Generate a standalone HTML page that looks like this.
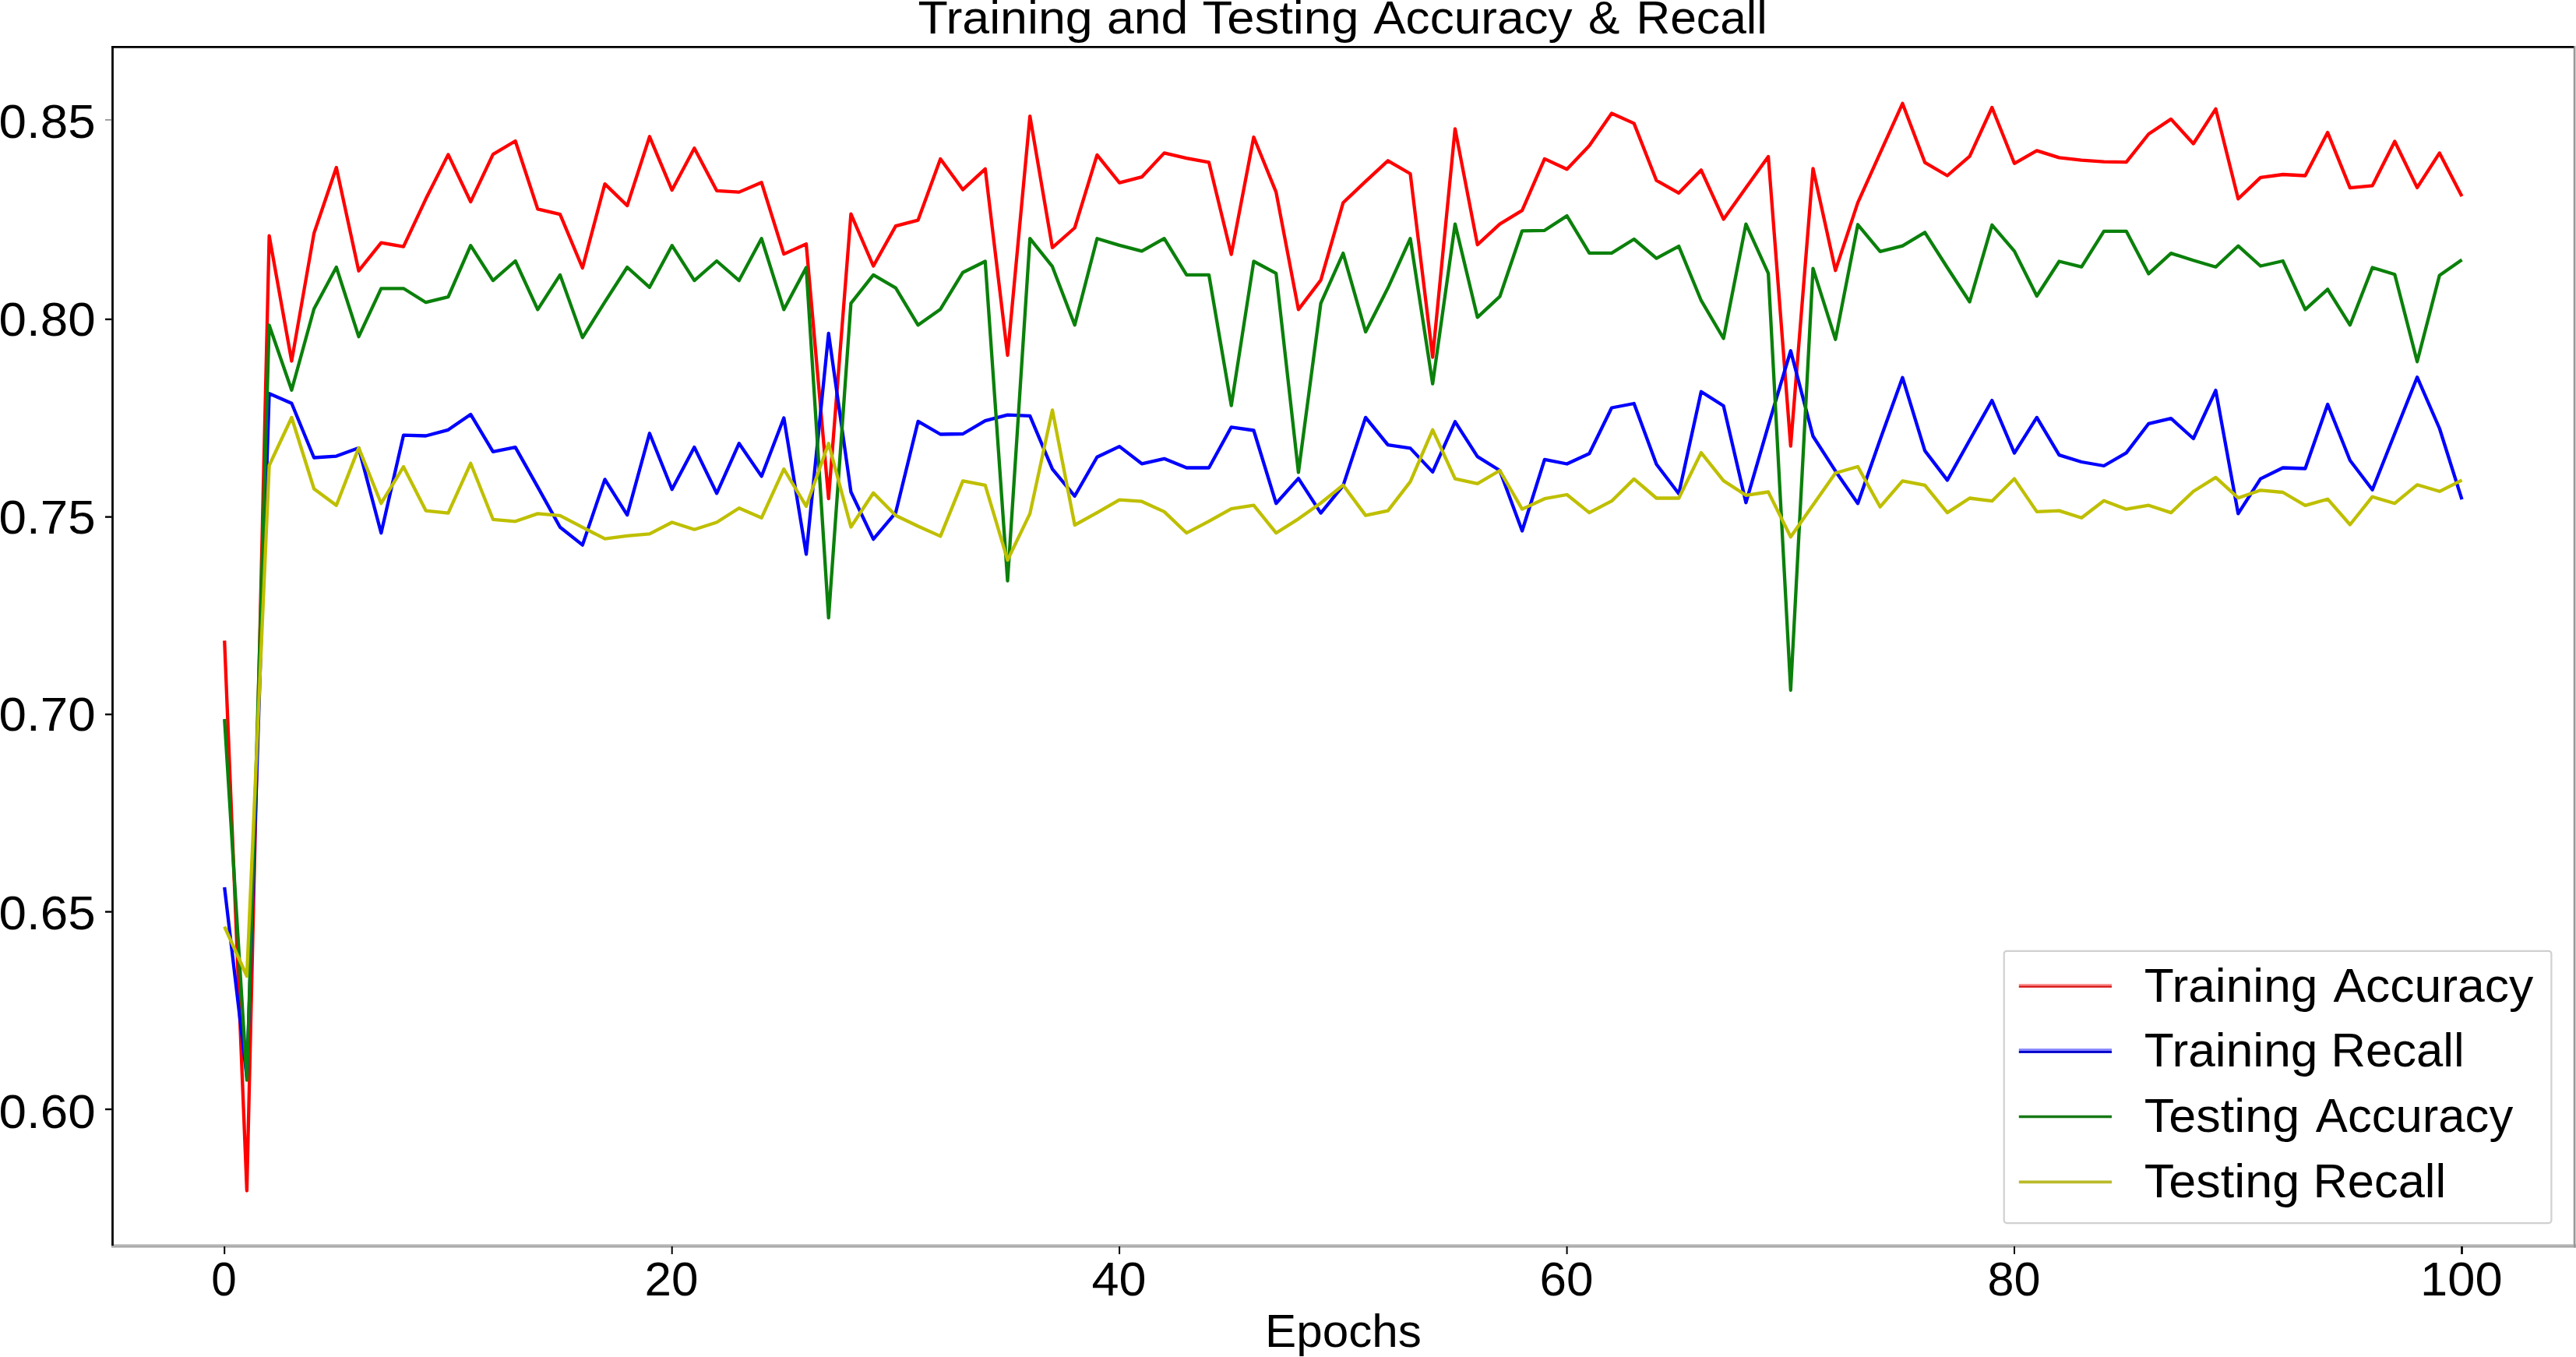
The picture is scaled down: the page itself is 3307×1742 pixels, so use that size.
<!DOCTYPE html>
<html><head><meta charset="utf-8"><title>Training and Testing Accuracy &amp; Recall</title>
<style>html,body{margin:0;padding:0;background:#fff;}body{width:3307px;height:1742px;overflow:hidden;}svg{display:block;}text{font-family:"Liberation Sans",sans-serif;fill:#000;}</style>
</head><body>
<svg width="3307" height="1742" viewBox="0 0 3307 1742">
<rect x="0" y="0" width="3307" height="1742" fill="#ffffff"/>
<polyline fill="none" stroke="#ff0000" stroke-width="4.3" stroke-linejoin="round" stroke-linecap="butt" points="288.2,822.4 316.9,1528.5 345.6,302.7 374.4,463.5 403.1,299.5 431.8,215.0 460.5,347.7 489.3,311.7 518.0,316.6 546.7,255.3 575.4,198.4 604.2,259.0 632.9,198.1 661.6,181.0 690.3,268.4 719.0,275.2 747.8,344.0 776.5,236.1 805.2,264.0 833.9,175.3 862.7,244.1 891.4,190.2 920.1,244.8 948.8,246.6 977.6,234.2 1006.3,326.1 1035.0,313.2 1063.7,640.0 1092.4,274.7 1121.2,341.5 1149.9,290.1 1178.6,282.6 1207.3,203.9 1236.1,243.4 1264.8,216.8 1293.5,456.1 1322.2,149.2 1351.0,317.9 1379.7,292.5 1408.4,198.9 1437.1,234.7 1465.8,227.2 1494.6,196.4 1523.3,203.1 1552.0,208.4 1580.7,326.6 1609.5,176.0 1638.2,246.6 1666.9,397.4 1695.6,359.6 1724.3,260.2 1753.1,232.9 1781.8,206.3 1810.5,223.0 1839.2,458.6 1868.0,165.3 1896.7,314.2 1925.4,287.6 1954.1,270.2 1982.9,203.9 2011.6,217.3 2040.3,187.0 2069.0,145.5 2097.7,158.4 2126.5,231.7 2155.2,247.8 2183.9,218.3 2212.6,281.4 2241.4,241.1 2270.1,200.9 2298.8,572.7 2327.5,216.3 2356.3,347.2 2385.0,260.2 2413.7,196.4 2442.4,132.8 2471.1,208.6 2499.9,225.5 2528.6,200.6 2557.3,138.0 2586.0,209.8 2614.8,193.4 2643.5,202.4 2672.2,205.6 2700.9,207.6 2729.7,208.1 2758.4,172.0 2787.1,152.9 2815.8,184.5 2844.5,139.8 2873.3,255.3 2902.0,227.9 2930.7,224.0 2959.4,225.5 2988.2,170.1 3016.9,241.1 3045.6,238.4 3074.3,181.5 3103.1,240.9 3131.8,196.4 3160.5,252.0"/>
<polyline fill="none" stroke="#0000ff" stroke-width="4.3" stroke-linejoin="round" stroke-linecap="butt" points="288.2,1139.0 316.9,1383.0 345.6,505.2 374.4,517.7 403.1,587.5 431.8,585.6 460.5,575.1 489.3,684.2 518.0,558.7 546.7,559.5 575.4,551.8 604.2,531.9 632.9,579.9 661.6,574.1 690.3,625.1 719.0,676.8 747.8,699.6 776.5,615.4 805.2,661.1 833.9,556.3 862.7,628.3 891.4,574.1 920.1,633.3 948.8,569.2 977.6,611.4 1006.3,536.4 1035.0,711.5 1063.7,428.0 1092.4,631.5 1121.2,692.2 1149.9,658.1 1178.6,540.9 1207.3,557.5 1236.1,557.0 1264.8,540.1 1293.5,532.7 1322.2,533.9 1351.0,602.2 1379.7,636.8 1408.4,586.8 1437.1,573.1 1465.8,595.3 1494.6,588.8 1523.3,600.5 1552.0,600.5 1580.7,548.3 1609.5,552.5 1638.2,646.2 1666.9,614.1 1695.6,658.6 1724.3,623.3 1753.1,535.9 1781.8,571.2 1810.5,575.4 1839.2,605.9 1868.0,541.3 1896.7,586.1 1925.4,604.0 1954.1,681.5 1982.9,589.8 2011.6,595.5 2040.3,582.3 2069.0,523.5 2097.7,518.0 2126.5,596.0 2155.2,633.8 2183.9,502.8 2212.6,521.0 2241.4,645.2 2270.1,546.3 2298.8,450.3 2327.5,560.0 2356.3,604.7 2385.0,646.2 2413.7,564.2 2442.4,484.7 2471.1,578.6 2499.9,616.4 2528.6,565.0 2557.3,514.0 2586.0,581.6 2614.8,535.9 2643.5,584.1 2672.2,593.0 2700.9,598.0 2729.7,581.4 2758.4,543.8 2787.1,537.1 2815.8,563.0 2844.5,501.1 2873.3,659.4 2902.0,614.6 2930.7,600.5 2959.4,601.5 2988.2,519.0 3016.9,591.0 3045.6,628.8 3074.3,556.5 3103.1,484.2 3131.8,550.0 3160.5,641.2"/>
<polyline fill="none" stroke="#0b800b" stroke-width="4.3" stroke-linejoin="round" stroke-linecap="butt" points="288.2,923.0 316.9,1386.5 345.6,417.5 374.4,500.8 403.1,396.5 431.8,343.0 460.5,432.2 489.3,370.3 518.0,370.3 546.7,388.2 575.4,381.2 604.2,315.2 632.9,360.1 661.6,335.0 690.3,397.4 719.0,352.9 747.8,433.4 776.5,387.7 805.2,343.0 833.9,368.8 862.7,315.2 891.4,360.1 920.1,335.0 948.8,360.1 977.6,306.2 1006.3,397.4 1035.0,343.5 1063.7,793.0 1092.4,389.4 1121.2,352.9 1149.9,369.6 1178.6,417.3 1207.3,396.9 1236.1,349.7 1264.8,335.5 1293.5,745.6 1322.2,306.2 1351.0,342.2 1379.7,417.3 1408.4,306.2 1437.1,314.9 1465.8,322.4 1494.6,306.2 1523.3,352.9 1552.0,352.9 1580.7,520.7 1609.5,335.5 1638.2,350.9 1666.9,606.4 1695.6,389.4 1724.3,325.1 1753.1,426.0 1781.8,369.6 1810.5,306.2 1839.2,492.7 1868.0,287.6 1896.7,407.3 1925.4,380.7 1954.1,296.3 1982.9,295.8 2011.6,277.1 2040.3,324.8 2069.0,324.8 2097.7,307.0 2126.5,331.6 2155.2,316.1 2183.9,385.7 2212.6,434.5 2241.4,287.6 2270.1,350.9 2298.8,886.0 2327.5,344.7 2356.3,435.7 2385.0,288.3 2413.7,322.9 2442.4,315.7 2471.1,298.3 2499.9,343.5 2528.6,387.5 2557.3,288.8 2586.0,322.4 2614.8,380.0 2643.5,335.5 2672.2,342.7 2700.9,296.8 2729.7,296.8 2758.4,351.4 2787.1,325.1 2815.8,334.3 2844.5,342.7 2873.3,315.7 2902.0,341.5 2930.7,335.0 2959.4,397.4 2988.2,371.3 3016.9,417.3 3045.6,343.5 3074.3,352.2 3103.1,464.3 3131.8,353.4 3160.5,333.5"/>
<polyline fill="none" stroke="#bfbf00" stroke-width="4.3" stroke-linejoin="round" stroke-linecap="butt" points="288.2,1189.5 316.9,1253.0 345.6,597.5 374.4,536.0 403.1,627.5 431.8,648.8 460.5,574.9 489.3,646.2 518.0,599.2 546.7,655.6 575.4,658.6 604.2,594.8 632.9,666.8 661.6,669.3 690.3,659.4 719.0,661.8 747.8,676.8 776.5,691.7 805.2,687.9 833.9,685.4 862.7,670.5 891.4,679.7 920.1,670.5 948.8,652.2 977.6,664.8 1006.3,602.2 1035.0,649.9 1063.7,569.2 1092.4,676.5 1121.2,632.8 1149.9,661.8 1178.6,675.5 1207.3,688.4 1236.1,617.4 1264.8,622.8 1293.5,719.0 1322.2,659.4 1351.0,526.4 1379.7,674.0 1408.4,658.1 1437.1,641.7 1465.8,643.7 1494.6,656.9 1523.3,684.2 1552.0,669.2 1580.7,653.1 1609.5,648.7 1638.2,684.2 1666.9,666.1 1695.6,645.7 1724.3,622.8 1753.1,661.6 1781.8,655.6 1810.5,618.4 1839.2,551.8 1868.0,614.6 1896.7,620.9 1925.4,604.0 1954.1,653.6 1982.9,640.2 2011.6,635.0 2040.3,658.1 2069.0,643.2 2097.7,614.9 2126.5,639.5 2155.2,639.5 2183.9,581.1 2212.6,617.1 2241.4,635.8 2270.1,631.5 2298.8,689.2 2327.5,648.2 2356.3,607.2 2385.0,599.0 2413.7,650.7 2442.4,617.4 2471.1,622.8 2499.9,658.1 2528.6,639.5 2557.3,643.2 2586.0,614.6 2614.8,656.9 2643.5,655.6 2672.2,664.8 2700.9,642.7 2729.7,653.7 2758.4,648.7 2787.1,658.1 2815.8,630.8 2844.5,612.9 2873.3,639.2 2902.0,629.3 2930.7,632.0 2959.4,648.9 2988.2,640.7 3016.9,673.5 3045.6,637.7 3074.3,646.2 3103.1,622.3 3131.8,630.8 3160.5,616.4"/>
<line x1="143" y1="1599.5" x2="3307" y2="1599.5" stroke="#cacaca" stroke-width="5"/>
<line x1="143" y1="1599.7" x2="3307" y2="1599.7" stroke="#ababab" stroke-width="2.6"/>
<line x1="3303.4" y1="62" x2="3303.4" y2="1597" stroke="#e6e6e6" stroke-width="1"/>
<line x1="3305.2" y1="59" x2="3305.2" y2="1601.6" stroke="#989898" stroke-width="2.5"/>
<line x1="143" y1="60.4" x2="3304.2" y2="60.4" stroke="#000" stroke-width="2.8"/>
<line x1="144.5" y1="59" x2="144.5" y2="1599" stroke="#000" stroke-width="2.8"/>
<line x1="135" y1="153.9" x2="143.2" y2="153.9" stroke="#8a8a8a" stroke-width="1.6"/>
<text x="-1.4" y="177.4" font-size="62" textLength="124" lengthAdjust="spacingAndGlyphs">0.85</text>
<line x1="135" y1="409.9" x2="143.2" y2="409.9" stroke="#000" stroke-width="2.4"/>
<text x="-1.4" y="431.2" font-size="62" textLength="124" lengthAdjust="spacingAndGlyphs">0.80</text>
<line x1="135" y1="663.6" x2="143.2" y2="663.6" stroke="#000" stroke-width="2.4"/>
<text x="-1.4" y="684.8" font-size="62" textLength="124" lengthAdjust="spacingAndGlyphs">0.75</text>
<line x1="135" y1="917.1" x2="143.2" y2="917.1" stroke="#000" stroke-width="2.4"/>
<text x="-1.4" y="938.4" font-size="62" textLength="124" lengthAdjust="spacingAndGlyphs">0.70</text>
<line x1="135" y1="1170.5" x2="143.2" y2="1170.5" stroke="#000" stroke-width="2.4"/>
<text x="-1.4" y="1193.0" font-size="62" textLength="124" lengthAdjust="spacingAndGlyphs">0.65</text>
<line x1="135" y1="1424.0" x2="143.2" y2="1424.0" stroke="#000" stroke-width="2.4"/>
<text x="-1.4" y="1447.8" font-size="62" textLength="124" lengthAdjust="spacingAndGlyphs">0.60</text>
<line x1="288.2" y1="1600" x2="288.2" y2="1610" stroke="#000" stroke-width="2.0"/>
<text x="271.3" y="1662.5" font-size="62" textLength="32.5" lengthAdjust="spacingAndGlyphs">0</text>
<line x1="862.7" y1="1600" x2="862.7" y2="1610" stroke="#000" stroke-width="2.0"/>
<text x="827.6" y="1662.5" font-size="62" textLength="69" lengthAdjust="spacingAndGlyphs">20</text>
<line x1="1437.1" y1="1600" x2="1437.1" y2="1610" stroke="#000" stroke-width="2.0"/>
<text x="1401.5" y="1662.5" font-size="62" textLength="70" lengthAdjust="spacingAndGlyphs">40</text>
<line x1="2011.6" y1="1600" x2="2011.6" y2="1610" stroke="#000" stroke-width="2.0"/>
<text x="1976.5" y="1662.5" font-size="62" textLength="69" lengthAdjust="spacingAndGlyphs">60</text>
<line x1="2586.0" y1="1600" x2="2586.0" y2="1610" stroke="#000" stroke-width="2.0"/>
<text x="2551.4" y="1662.5" font-size="62" textLength="68" lengthAdjust="spacingAndGlyphs">80</text>
<line x1="3160.5" y1="1600" x2="3160.5" y2="1610" stroke="#000" stroke-width="2.7"/>
<text x="3107.1" y="1662.5" font-size="62" textLength="105.5" lengthAdjust="spacingAndGlyphs">100</text>
<text x="1624" y="1729.2" font-size="60" textLength="201" lengthAdjust="spacingAndGlyphs">Epochs</text>
<text x="1178.4" y="42.9" font-size="58.8" textLength="224.3" lengthAdjust="spacingAndGlyphs">Training</text>
<text x="1420.9" y="42.9" font-size="58.8" textLength="104.5" lengthAdjust="spacingAndGlyphs">and</text>
<text x="1543.5" y="42.9" font-size="58.8" textLength="200.9" lengthAdjust="spacingAndGlyphs">Testing</text>
<text x="1763.2" y="42.9" font-size="58.8" textLength="255.4" lengthAdjust="spacingAndGlyphs">Accuracy</text>
<text x="2039.1" y="42.9" font-size="58.8" textLength="40.4" lengthAdjust="spacingAndGlyphs">&amp;</text>
<text x="2100.5" y="42.9" font-size="58.8" textLength="168.2" lengthAdjust="spacingAndGlyphs">Recall</text>
<rect x="2572.7" y="1220.8" width="702.7" height="349.3" rx="3.5" ry="3.5" fill="#ffffff" stroke="#d0d0d0" stroke-width="2.2"/>
<rect x="2591.8" y="1263.0" width="119.2" height="2.4" fill="#ff9494"/>
<rect x="2591.8" y="1265.3" width="119.2" height="2.5" fill="#d81616"/>
<text x="2752.8" y="1285.8" font-size="61" textLength="222.6" lengthAdjust="spacingAndGlyphs">Training</text>
<text x="2995.4" y="1285.8" font-size="61" textLength="256.9" lengthAdjust="spacingAndGlyphs">Accuracy</text>
<rect x="2591.8" y="1346.1" width="119.2" height="3.0" fill="#8686ff"/>
<rect x="2591.8" y="1349.0" width="119.2" height="2.9" fill="#0000cc"/>
<text x="2752.8" y="1369.2" font-size="61" textLength="222.6" lengthAdjust="spacingAndGlyphs">Training</text>
<text x="2992.5" y="1369.2" font-size="61" textLength="171.2" lengthAdjust="spacingAndGlyphs">Recall</text>
<line x1="2591.8" y1="1433.5" x2="2711" y2="1433.5" stroke="#157a15" stroke-width="3.4"/>
<text x="2752.8" y="1453.2" font-size="61" textLength="199.4" lengthAdjust="spacingAndGlyphs">Testing</text>
<text x="2972.8" y="1453.2" font-size="61" textLength="253.4" lengthAdjust="spacingAndGlyphs">Accuracy</text>
<line x1="2591.8" y1="1517.4" x2="2711" y2="1517.4" stroke="#baba28" stroke-width="3.6"/>
<text x="2752.8" y="1536.5" font-size="61" textLength="199.4" lengthAdjust="spacingAndGlyphs">Testing</text>
<text x="2969.4" y="1536.5" font-size="61" textLength="170.8" lengthAdjust="spacingAndGlyphs">Recall</text>
</svg></body></html>
